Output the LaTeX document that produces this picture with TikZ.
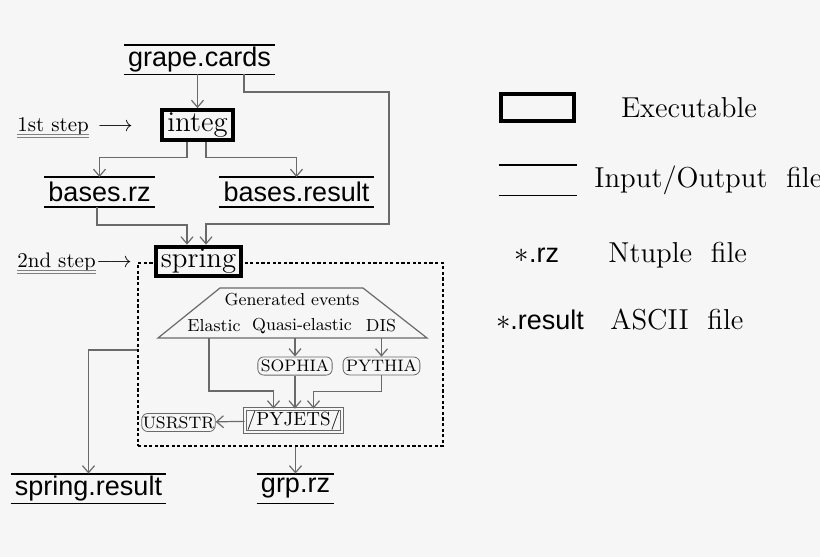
\documentclass[tikz,border=0pt]{standalone}
\usepackage{fontspec}
\newfontfamily\filefont{Liberation Sans}
\usetikzlibrary{arrows.meta,positioning}
\definecolor{bg}{HTML}{F6F6F6}
\definecolor{linegray}{HTML}{6A6A6A}
\newcommand\bigtext{\fontsize{14.4}{16}\selectfont}
\newcommand\smalltext{\fontsize{8.7}{10}\selectfont}
\tikzset{
	exe/.style={draw, line width=2pt, fill=bg, inner xsep=2.5pt, inner ysep=1.25pt, font=\bigtext},
	iofile/.style={inner xsep=2pt, inner ysep=0pt, minimum height=14.5pt, font=\filefont\fontsize{13.5}{15}\selectfont},
	sub/.style={draw=linegray, rounded corners=3pt, inner xsep=1.5pt, inner ysep=1.5pt, fill=bg, font=\fontsize{8.3}{10}\selectfont},
	common/.style={draw=linegray, line width=0.4pt, double=bg, double distance=0.8pt, inner sep=1pt, font=\fontsize{9.5}{11}\selectfont},
	conn/.style={draw=linegray, line width=0.6pt, -{Straight Barb[length=3.5pt,width=6pt]}},
	steplab/.style={font=\fontsize{10.5}{12}\selectfont, inner sep=0pt},
}
\begin{document}
\begin{tikzpicture}[x=0.5pt, y=-0.5pt]
	\fill[bg] (0,0) rectangle (820,557);
	\useasboundingbox (0,0) rectangle (820,557);
	% Files and programs
	\node[iofile] (gc) at (199.5,59.5) {grape.cards};
	\node[exe] (integ) at (197.5,125) {integ};
	\node[iofile] (brz) at (99.5,192) {bases.rz};
	\node[iofile] (bres) at (296.5,192) {bases.result};
	\node[draw, dash pattern=on 1.6pt off 1.2pt, line width=0.75pt, minimum width=152.5pt, minimum height=91.5pt, inner sep=0pt] (spbox) at (290.5,354.5) {};
	\node[exe] (spring) at (198.5,261.5) {spring};
	\node[iofile] (sres) at (88.5,488.5) {spring.result};
	\node[iofile] (grp) at (295.5,488.5) {grp.rz};
	\foreach \f in {gc, brz, bres, sres, grp}
		\draw[line width=0.9pt] (\f.north west) -- (\f.north east) (\f.south west) -- (\f.south east);
	% Steps
	\node[steplab, anchor=base west] (s1) at (17,131) {1st step};
	\node[steplab, base right=4pt of s1] (a1) {$\longrightarrow$};
	\node[steplab, anchor=base west] (s2) at (17,267) {2nd step};
	\node[steplab, base right=0pt of s2] (a2) {$\longrightarrow$};
	\foreach \s in {s1, s2}
		\draw[line width=0.6pt] ([yshift=-1.6pt]\s.base west) -- ([yshift=-1.6pt]\s.base east)
			[gray] ([yshift=-3.1pt]\s.base west) -- ([yshift=-3.1pt]\s.base east);
	% Inside spring
	\draw[linegray, line width=0.6pt] (220,288) -- (363,288) -- (427,338) -- (158,338) -- cycle;
	\coordinate (gbl) at (158,338);
	\coordinate (elb) at (209,338);
	\node[font=\smalltext] (gen) at (292,300) {Generated events};
	\node[font=\smalltext] (el) at (214,326) {Elastic};
	\node[font=\smalltext] (qe) at (302,326) {Quasi-elastic};
	\node[font=\smalltext] (dis) at (381,326) {DIS};
	\node[sub] (sophia) at (295,366) {SOPHIA};
	\node[sub] (pythia) at (381.5,366) {PYTHIA};
	\node[common] (pyj) at (293.5,420.5) {/PYJETS/};
	\node[sub, inner xsep=0.5pt] (usr) at (178.5,422.5) {USRSTR};
	% Connectors
	\draw[conn] (integ.north |- gc.south) -- (integ.north);
	\coordinate (rt) at (389,92);
	\coordinate (rb) at (389,224);
	\draw[conn] ([xshift=22.25pt]gc.south) |- (rt) -- (rb) -| ([xshift=3.75pt]spring.north);
	\draw[conn] ([xshift=-5.25pt]integ.south) -- ++(0,16) -| (brz.north);
	\draw[conn] ([xshift=4.25pt]integ.south) -- ++(0,16) -| (bres.north);
	\draw[conn] ([xshift=-1.25pt]brz.south) -- ++(0,18) -| ([xshift=-5.75pt]spring.north);
	\draw[conn] (elb) -- ++(0,53) -| ([xshift=-10pt]pyj.north);
	\draw[conn] (sophia.north |- gbl) -- (sophia.north);
	\draw[conn] (sophia.south) -- (sophia.south |- pyj.north);
	\draw[conn] (pythia.north |- gbl) -- (pythia.north);
	\draw[conn] (pythia.south) -- ++(0,16) -| ([xshift=10pt]pyj.north);
	\draw[conn] (pyj) -- (usr);
	\draw[conn] (spbox.south -| grp.north) -- (grp.north);
	\draw[conn] ([yshift=2.25pt]spbox.west) -| (sres.north);
	% Legend
	\node[exe, minimum width=36.5pt, minimum height=13.5pt, inner sep=0pt] (legexe) at (537.5,107.5) {};
	\node[font=\bigtext] (lexe) at (689,108) {Executable};
	\node[iofile, minimum width=39pt, minimum height=15pt] (legio) at (538,180) {};
	\draw[line width=0.9pt] (legio.north west) -- (legio.north east) (legio.south west) -- (legio.south east);
	\node[font=\bigtext, anchor=west, inner sep=0pt] (lio) at (594,180) {Input/Output~ file};
	\node[iofile] (legrz) at (537,255) {$\ast$.rz};
	\node[font=\bigtext, anchor=west, inner sep=0pt] (lrz) at (608,255) {Ntuple~ file};
	\node[iofile] (legres) at (540,320) {$\ast$.result};
	\node[font=\bigtext, anchor=west, inner sep=0pt] (lres) at (610,320) {ASCII~ file};
\end{tikzpicture}
\end{document}
